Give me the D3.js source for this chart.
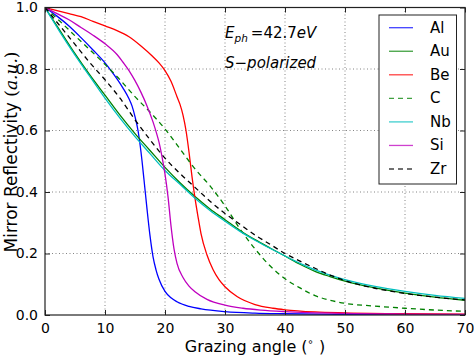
<!DOCTYPE html>
<html>
<head>
<meta charset="utf-8">
<script src="https://cdn.jsdelivr.net/npm/d3@7"></script>
<style>
html,body{margin:0;padding:0;background:#fff;}
svg text{font-family:"DejaVu Sans",sans-serif;}
</style>
</head>
<body>
<svg id="chart" width="474" height="355"></svg>
<script>
const xTicks = [0,10,20,30,40,50,60,70];
const yTicks = [0.0,0.2,0.4,0.6,0.8,1.0];
const materials = ["Al","Au","Be","C","Nb","Si","Zr"];

const angAl = [0,2,4,6,8,10,11,12,13,14,14.5,15,15.5,16,16.5,17,17.5,18,18.5,19,20,21,22,24,26,30,35,40,50,60,70];
const valAl = [1,0.972,0.94,0.902,0.862,0.82,0.795,0.768,0.738,0.703,0.68,0.645,0.6,0.53,0.44,0.345,0.258,0.19,0.147,0.116,0.077,0.056,0.043,0.028,0.02,0.011,0.006,0.004,0.002,0.001,0.001];

const angSi = [0,2,4,6,8,10,12,13,14,15,16,17,18,18.5,19,19.5,20,20.5,21,21.5,22,23,24,25,27,30,33,36,40,50,60,70];
const valSi = [1,0.98,0.96,0.935,0.91,0.882,0.847,0.822,0.795,0.762,0.724,0.68,0.628,0.597,0.562,0.515,0.458,0.385,0.29,0.215,0.168,0.122,0.094,0.076,0.051,0.032,0.022,0.016,0.011,0.005,0.003,0.002];

const angBe = [0,2,4,6,8,10,12,14,16,18,19,20,21,22,22.5,23,23.5,24,24.5,25,25.5,26,27,28,29,30,32,35,38,40,45,50,60,70];
const valBe = [1,0.99,0.98,0.97,0.955,0.94,0.925,0.905,0.875,0.84,0.82,0.795,0.76,0.71,0.685,0.65,0.6,0.53,0.45,0.38,0.32,0.265,0.195,0.148,0.115,0.092,0.06,0.034,0.022,0.017,0.01,0.007,0.004,0.003];

const angStd = [0,2.5,5,7.5,10,12.5,15,17.5,20,22.5,25,27.5,30,32.5,35,37.5,40,42.5,45,47.5,50,55,60,65,70];
const valAu = [1,0.925,0.85,0.78,0.715,0.65,0.59,0.535,0.48,0.43,0.385,0.345,0.31,0.275,0.245,0.218,0.192,0.165,0.142,0.125,0.11,0.088,0.071,0.058,0.048];
const valNb = [1,0.92,0.845,0.775,0.705,0.64,0.58,0.525,0.47,0.425,0.38,0.34,0.305,0.272,0.243,0.217,0.192,0.168,0.147,0.13,0.115,0.093,0.077,0.064,0.054];
const valZr = [1,0.94,0.88,0.82,0.765,0.705,0.635,0.57,0.51,0.46,0.415,0.37,0.33,0.295,0.26,0.23,0.2,0.175,0.152,0.13,0.112,0.087,0.07,0.058,0.049];
const valC  = [1,0.955,0.908,0.862,0.815,0.765,0.71,0.66,0.605,0.54,0.475,0.42,0.355,0.28,0.215,0.16,0.118,0.088,0.063,0.048,0.038,0.029,0.022,0.016,0.012];

const series = [
  {name:"Al", ang:angAl, val:valAl, color:"#0000ff", dash:null},
  {name:"Au", ang:angStd, val:valAu, color:"#008000", dash:null},
  {name:"Be", ang:angBe, val:valBe, color:"#ff0000", dash:null},
  {name:"C",  ang:angStd, val:valC,  color:"#008000", dash:"5,4"},
  {name:"Nb", ang:angStd, val:valNb, color:"#00bfbf", dash:null},
  {name:"Si", ang:angSi, val:valSi, color:"#bf00bf", dash:null},
  {name:"Zr", ang:angStd, val:valZr, color:"#000000", dash:"5,4"}
];

const svg = d3.select("#chart");
const L=45, R=465, T=7.5, B=315;
const x = d3.scaleLinear().domain([0,70]).range([L,R]);
const y = d3.scaleLinear().domain([0,1]).range([B,T]);

// grid
const g = svg.append("g");
g.selectAll("line.gx").data(xTicks.slice(1,-1)).enter().append("line")
  .attr("x1",d=>x(d)).attr("x2",d=>x(d)).attr("y1",T).attr("y2",B)
  .attr("stroke","#666").attr("stroke-width",0.8).attr("stroke-dasharray","1,2.5");
g.selectAll("line.gy").data(yTicks.slice(1,-1)).enter().append("line")
  .attr("y1",d=>y(d)).attr("y2",d=>y(d)).attr("x1",L).attr("x2",R)
  .attr("stroke","#666").attr("stroke-width",0.8).attr("stroke-dasharray","1,2.5");

// curves
svg.append("defs").append("clipPath").attr("id","clip").append("rect")
  .attr("x",L).attr("y",T).attr("width",R-L).attr("height",B-T);
const line = d3.line().x(d=>x(d[0])).y(d=>y(d[1])).curve(d3.curveMonotoneX);
const cg = svg.append("g").attr("clip-path","url(#clip)");
series.forEach(s=>{
  const pts = s.ang.map((a,i)=>[a,s.val[i]]);
  cg.append("path").attr("d",line(pts)).attr("fill","none")
    .attr("stroke",s.color).attr("stroke-width",1.3)
    .attr("stroke-dasharray",s.dash);
});

// axes (ticks inward, classic style)
const axB = d3.axisBottom(x).tickValues(xTicks).tickSize(-5).tickPadding(8).tickFormat(d3.format("d"));
const axT = d3.axisTop(x).tickValues(xTicks).tickSize(-5).tickFormat("");
const axLft = d3.axisLeft(y).tickValues(yTicks).tickSize(-5).tickPadding(7).tickFormat(d3.format(".1f"));
const axRt = d3.axisRight(y).tickValues(yTicks).tickSize(-5).tickFormat("");
function styleAxis(sel){
  sel.select(".domain").remove();
  sel.selectAll(".tick line").attr("stroke","#222").attr("stroke-width",1);
  sel.selectAll(".tick text").attr("font-size",14).attr("fill","#000")
     .attr("font-family","DejaVu Sans, sans-serif");
}
svg.append("g").attr("transform",`translate(0,${B})`).call(axB).call(styleAxis);
svg.append("g").attr("transform",`translate(0,${T})`).call(axT).call(styleAxis);
svg.append("g").attr("transform",`translate(${L},0)`).call(axLft).call(styleAxis);
svg.append("g").attr("transform",`translate(${R},0)`).call(axRt).call(styleAxis);

// frame
svg.append("rect").attr("x",L).attr("y",T).attr("width",R-L).attr("height",B-T)
  .attr("fill","none").attr("stroke","#222").attr("stroke-width",1.2);

// axis labels
const xl = svg.append("text").attr("x",255).attr("y",352).attr("text-anchor","middle")
  .attr("font-size",16);
xl.append("tspan").text("Grazing angle (");
xl.append("tspan").attr("font-size",10).attr("dy",-7).text("∘");
xl.append("tspan").attr("dy",7).text(" )");

const yl = svg.append("text").attr("transform","translate(17,152) rotate(-90)")
  .attr("text-anchor","middle").attr("font-size",17);
yl.append("tspan").text("Mirror Reflectivity ");
yl.append("tspan").attr("font-family","DejaVu Serif, serif").text("(");
yl.append("tspan").attr("font-family","DejaVu Serif, serif").attr("font-style","italic").text("a.u.");
yl.append("tspan").attr("font-family","DejaVu Serif, serif").text(")");

// annotation
const serif = "Liberation Serif, DejaVu Serif, serif";
const a1 = svg.append("text").attr("x",225).attr("y",38).attr("font-family",serif).attr("font-size",15);
a1.append("tspan").attr("font-style","italic").text("E");
a1.append("tspan").attr("font-style","italic").attr("font-size",10.5).attr("dy",3.5).text("ph");
a1.append("tspan").attr("dy",-3.5).attr("dx",3).text("=42.7");
a1.append("tspan").attr("font-style","italic").text("eV");
const a2 = svg.append("text").attr("x",225).attr("y",68).attr("font-family",serif).attr("font-size",15);
a2.append("tspan").attr("font-style","italic").text("S");
a2.append("tspan").text("−");
a2.append("tspan").attr("font-style","italic").text("polarized");

// legend
const lg = svg.append("g");
lg.append("rect").attr("x",379).attr("y",15).attr("width",77.5).attr("height",169)
  .attr("fill","#fff").attr("stroke","#222").attr("stroke-width",1);
series.forEach((s,i)=>{
  const yy = 27.7 + i*23.55;
  lg.append("line").attr("x1",389).attr("x2",413).attr("y1",yy).attr("y2",yy)
    .attr("stroke",s.color).attr("stroke-width",1.3).attr("stroke-dasharray",s.dash)
    .attr("stroke-opacity",0.75);
  lg.append("text").attr("x",430).attr("y",yy+5).attr("font-size",15).text(s.name);
});
</script>
</body>
</html>
